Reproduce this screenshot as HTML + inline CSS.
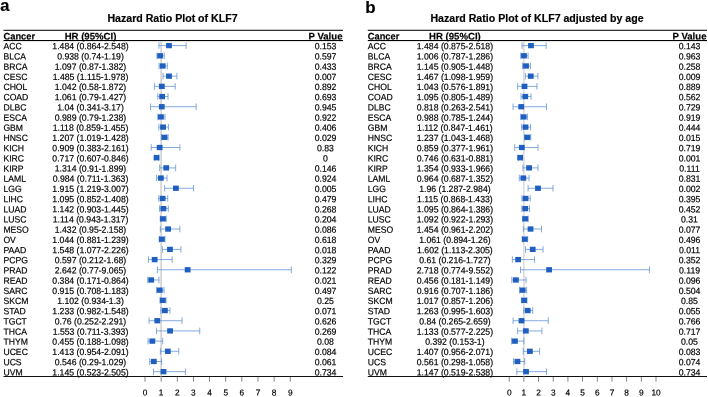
<!DOCTYPE html>
<html><head><meta charset="utf-8"><title>Hazard Ratio Plot of KLF7</title>
<style>
html,body{margin:0;padding:0;background:#fff;}
body{width:708px;height:397px;overflow:hidden;}
svg{display:block;font-family:"Liberation Sans",sans-serif;fill:#000;}
svg text{stroke:#000;stroke-width:0.18px;}
</style></head><body>
<svg width="708" height="397" viewBox="0 0 708 397">
<rect x="0" y="0" width="708" height="397" fill="#fff"/>
<text x="0.3" y="10.6" font-size="16.5" font-weight="bold">a</text>
<text x="172.5" y="22.45" font-size="10.6" font-weight="bold" text-anchor="middle">Hazard Ratio Plot of KLF7</text>
<rect x="3.5" y="29.75" width="339.5" height="1.15" fill="#1c1c1c"/>
<rect x="3.5" y="40" width="339.5" height="1.1" fill="#000"/>
<rect x="3.5" y="376" width="339.5" height="1.0" fill="#111"/>
<text transform="translate(3.50 39.50) rotate(0.03) scale(0.97 1.0)" font-size="9.6" font-weight="bold">Cancer</text>
<text transform="translate(90.50 39.50) rotate(0.03) scale(1.0 1.0)" font-size="9.6" text-anchor="middle" font-weight="bold">HR (95%CI)</text>
<text transform="translate(325.50 39.50) rotate(0.03) scale(1.0 1.0)" font-size="9.6" text-anchor="middle" font-weight="bold">P Value</text>
<rect x="160.29" y="41" width="1.7" height="335.5" fill="#d4d4d4"/>
<text transform="translate(3.40 49.35) rotate(0.03) scale(0.995 1.05)" font-size="8.7">ACC</text>
<text transform="translate(90.50 49.35) rotate(0.03) scale(1.0 1.05)" font-size="8.7" text-anchor="middle">1.484 (0.864-2.548)</text>
<text transform="translate(325.50 49.35) rotate(0.03) scale(1.0 1.05)" font-size="8.7" text-anchor="middle">0.153</text>
<path d="M158.94 45.60H186.12M158.94 42.30v6.6M186.12 42.30v6.6" stroke="#5b8ed6" stroke-width="0.75" fill="none"/>
<rect x="166.05" y="42.95" width="5.8" height="5.3" fill="#1f5fbf"/>
<text transform="translate(3.40 59.54) rotate(0.03) scale(0.995 1.05)" font-size="8.7">BLCA</text>
<text transform="translate(90.50 59.54) rotate(0.03) scale(1.0 1.05)" font-size="8.7" text-anchor="middle">0.938 (0.74-1.19)</text>
<text transform="translate(325.50 59.54) rotate(0.03) scale(1.0 1.05)" font-size="8.7" text-anchor="middle">0.597</text>
<path d="M156.94 55.79H164.21M156.94 52.49v6.6M164.21 52.49v6.6" stroke="#5b8ed6" stroke-width="0.75" fill="none"/>
<rect x="157.24" y="53.14" width="5.8" height="5.3" fill="#1f5fbf"/>
<text transform="translate(3.40 69.73) rotate(0.03) scale(0.995 1.05)" font-size="8.7">BRCA</text>
<text transform="translate(90.50 69.73) rotate(0.03) scale(1.0 1.05)" font-size="8.7" text-anchor="middle">1.097 (0.87-1.382)</text>
<text transform="translate(325.50 69.73) rotate(0.03) scale(1.0 1.05)" font-size="8.7" text-anchor="middle">0.433</text>
<path d="M159.04 65.98H167.31M159.04 62.68v6.6M167.31 62.68v6.6" stroke="#5b8ed6" stroke-width="0.75" fill="none"/>
<rect x="159.81" y="63.33" width="5.8" height="5.3" fill="#1f5fbf"/>
<text transform="translate(3.40 79.92) rotate(0.03) scale(0.995 1.05)" font-size="8.7">CESC</text>
<text transform="translate(90.50 79.92) rotate(0.03) scale(1.0 1.05)" font-size="8.7" text-anchor="middle">1.485 (1.115-1.978)</text>
<text transform="translate(325.50 79.92) rotate(0.03) scale(1.0 1.05)" font-size="8.7" text-anchor="middle">0.007</text>
<path d="M163.00 76.17H176.92M163.00 72.87v6.6M176.92 72.87v6.6" stroke="#5b8ed6" stroke-width="0.75" fill="none"/>
<rect x="166.07" y="73.52" width="5.8" height="5.3" fill="#1f5fbf"/>
<text transform="translate(3.40 90.11) rotate(0.03) scale(0.995 1.05)" font-size="8.7">CHOL</text>
<text transform="translate(90.50 90.11) rotate(0.03) scale(1.0 1.05)" font-size="8.7" text-anchor="middle">1.042 (0.58-1.872)</text>
<text transform="translate(325.50 90.11) rotate(0.03) scale(1.0 1.05)" font-size="8.7" text-anchor="middle">0.892</text>
<path d="M154.36 86.36H175.21M154.36 83.06v6.6M175.21 83.06v6.6" stroke="#5b8ed6" stroke-width="0.75" fill="none"/>
<rect x="158.92" y="83.71" width="5.8" height="5.3" fill="#1f5fbf"/>
<text transform="translate(3.40 100.30) rotate(0.03) scale(0.995 1.05)" font-size="8.7">COAD</text>
<text transform="translate(90.50 100.30) rotate(0.03) scale(1.0 1.05)" font-size="8.7" text-anchor="middle">1.061 (0.79-1.427)</text>
<text transform="translate(325.50 100.30) rotate(0.03) scale(1.0 1.05)" font-size="8.7" text-anchor="middle">0.693</text>
<path d="M157.75 96.55H168.03M157.75 93.25v6.6M168.03 93.25v6.6" stroke="#5b8ed6" stroke-width="0.75" fill="none"/>
<rect x="159.22" y="93.90" width="5.8" height="5.3" fill="#1f5fbf"/>
<text transform="translate(3.40 110.49) rotate(0.03) scale(0.995 1.05)" font-size="8.7">DLBC</text>
<text transform="translate(90.50 110.49) rotate(0.03) scale(1.0 1.05)" font-size="8.7" text-anchor="middle">1.04 (0.341-3.17)</text>
<text transform="translate(325.50 110.49) rotate(0.03) scale(1.0 1.05)" font-size="8.7" text-anchor="middle">0.945</text>
<path d="M150.50 106.74H196.16M150.50 103.44v6.6M196.16 103.44v6.6" stroke="#5b8ed6" stroke-width="0.75" fill="none"/>
<rect x="158.89" y="104.09" width="5.8" height="5.3" fill="#1f5fbf"/>
<text transform="translate(3.40 120.68) rotate(0.03) scale(0.995 1.05)" font-size="8.7">ESCA</text>
<text transform="translate(90.50 120.68) rotate(0.03) scale(1.0 1.05)" font-size="8.7" text-anchor="middle">0.989 (0.79-1.238)</text>
<text transform="translate(325.50 120.68) rotate(0.03) scale(1.0 1.05)" font-size="8.7" text-anchor="middle">0.922</text>
<path d="M157.75 116.93H164.98M157.75 113.63v6.6M164.98 113.63v6.6" stroke="#5b8ed6" stroke-width="0.75" fill="none"/>
<rect x="158.06" y="114.28" width="5.8" height="5.3" fill="#1f5fbf"/>
<text transform="translate(3.40 130.87) rotate(0.03) scale(0.995 1.05)" font-size="8.7">GBM</text>
<text transform="translate(90.50 130.87) rotate(0.03) scale(1.0 1.05)" font-size="8.7" text-anchor="middle">1.118 (0.859-1.455)</text>
<text transform="translate(325.50 130.87) rotate(0.03) scale(1.0 1.05)" font-size="8.7" text-anchor="middle">0.406</text>
<path d="M158.86 127.12H168.48M158.86 123.82v6.6M168.48 123.82v6.6" stroke="#5b8ed6" stroke-width="0.75" fill="none"/>
<rect x="160.14" y="124.47" width="5.8" height="5.3" fill="#1f5fbf"/>
<text transform="translate(3.40 141.06) rotate(0.03) scale(0.995 1.05)" font-size="8.7">HNSC</text>
<text transform="translate(90.50 141.06) rotate(0.03) scale(1.0 1.05)" font-size="8.7" text-anchor="middle">1.207 (1.019-1.428)</text>
<text transform="translate(325.50 141.06) rotate(0.03) scale(1.0 1.05)" font-size="8.7" text-anchor="middle">0.029</text>
<path d="M161.45 137.31H168.05M161.45 134.01v6.6M168.05 134.01v6.6" stroke="#5b8ed6" stroke-width="0.75" fill="none"/>
<rect x="161.58" y="134.66" width="5.8" height="5.3" fill="#1f5fbf"/>
<text transform="translate(3.40 151.25) rotate(0.03) scale(0.995 1.05)" font-size="8.7">KICH</text>
<text transform="translate(90.50 151.25) rotate(0.03) scale(1.0 1.05)" font-size="8.7" text-anchor="middle">0.909 (0.383-2.161)</text>
<text transform="translate(325.50 151.25) rotate(0.03) scale(1.0 1.05)" font-size="8.7" text-anchor="middle">0.83</text>
<path d="M151.18 147.50H179.88M151.18 144.20v6.6M179.88 144.20v6.6" stroke="#5b8ed6" stroke-width="0.75" fill="none"/>
<rect x="156.77" y="144.85" width="5.8" height="5.3" fill="#1f5fbf"/>
<text transform="translate(3.40 161.44) rotate(0.03) scale(0.995 1.05)" font-size="8.7">KIRC</text>
<text transform="translate(90.50 161.44) rotate(0.03) scale(1.0 1.05)" font-size="8.7" text-anchor="middle">0.717 (0.607-0.846)</text>
<text transform="translate(325.50 161.44) rotate(0.03) scale(1.0 1.05)" font-size="8.7" text-anchor="middle">0</text>
<path d="M154.80 157.69H158.65M154.80 154.39v6.6M158.65 154.39v6.6" stroke="#5b8ed6" stroke-width="0.75" fill="none"/>
<rect x="153.67" y="155.04" width="5.8" height="5.3" fill="#1f5fbf"/>
<text transform="translate(3.40 171.63) rotate(0.03) scale(0.995 1.05)" font-size="8.7">KIRP</text>
<text transform="translate(90.50 171.63) rotate(0.03) scale(1.0 1.05)" font-size="8.7" text-anchor="middle">1.314 (0.91-1.899)</text>
<text transform="translate(325.50 171.63) rotate(0.03) scale(1.0 1.05)" font-size="8.7" text-anchor="middle">0.146</text>
<path d="M159.69 167.88H175.65M159.69 164.58v6.6M175.65 164.58v6.6" stroke="#5b8ed6" stroke-width="0.75" fill="none"/>
<rect x="163.31" y="165.23" width="5.8" height="5.3" fill="#1f5fbf"/>
<text transform="translate(3.40 181.82) rotate(0.03) scale(0.995 1.05)" font-size="8.7">LAML</text>
<text transform="translate(90.50 181.82) rotate(0.03) scale(1.0 1.05)" font-size="8.7" text-anchor="middle">0.984 (0.711-1.363)</text>
<text transform="translate(325.50 181.82) rotate(0.03) scale(1.0 1.05)" font-size="8.7" text-anchor="middle">0.924</text>
<path d="M156.48 178.07H167.00M156.48 174.77v6.6M167.00 174.77v6.6" stroke="#5b8ed6" stroke-width="0.75" fill="none"/>
<rect x="157.98" y="175.42" width="5.8" height="5.3" fill="#1f5fbf"/>
<text transform="translate(3.40 192.01) rotate(0.03) scale(0.995 1.05)" font-size="8.7">LGG</text>
<text transform="translate(90.50 192.01) rotate(0.03) scale(1.0 1.05)" font-size="8.7" text-anchor="middle">1.915 (1.219-3.007)</text>
<text transform="translate(325.50 192.01) rotate(0.03) scale(1.0 1.05)" font-size="8.7" text-anchor="middle">0.005</text>
<path d="M164.67 188.26H193.53M164.67 184.96v6.6M193.53 184.96v6.6" stroke="#5b8ed6" stroke-width="0.75" fill="none"/>
<rect x="173.01" y="185.61" width="5.8" height="5.3" fill="#1f5fbf"/>
<text transform="translate(3.40 202.20) rotate(0.03) scale(0.995 1.05)" font-size="8.7">LIHC</text>
<text transform="translate(90.50 202.20) rotate(0.03) scale(1.0 1.05)" font-size="8.7" text-anchor="middle">1.095 (0.852-1.408)</text>
<text transform="translate(325.50 202.20) rotate(0.03) scale(1.0 1.05)" font-size="8.7" text-anchor="middle">0.479</text>
<path d="M158.75 198.45H167.73M158.75 195.15v6.6M167.73 195.15v6.6" stroke="#5b8ed6" stroke-width="0.75" fill="none"/>
<rect x="159.77" y="195.80" width="5.8" height="5.3" fill="#1f5fbf"/>
<text transform="translate(3.40 212.39) rotate(0.03) scale(0.995 1.05)" font-size="8.7">LUAD</text>
<text transform="translate(90.50 212.39) rotate(0.03) scale(1.0 1.05)" font-size="8.7" text-anchor="middle">1.142 (0.903-1.445)</text>
<text transform="translate(325.50 212.39) rotate(0.03) scale(1.0 1.05)" font-size="8.7" text-anchor="middle">0.268</text>
<path d="M159.57 208.64H168.32M159.57 205.34v6.6M168.32 205.34v6.6" stroke="#5b8ed6" stroke-width="0.75" fill="none"/>
<rect x="160.53" y="205.99" width="5.8" height="5.3" fill="#1f5fbf"/>
<text transform="translate(3.40 222.58) rotate(0.03) scale(0.995 1.05)" font-size="8.7">LUSC</text>
<text transform="translate(90.50 222.58) rotate(0.03) scale(1.0 1.05)" font-size="8.7" text-anchor="middle">1.114 (0.943-1.317)</text>
<text transform="translate(325.50 222.58) rotate(0.03) scale(1.0 1.05)" font-size="8.7" text-anchor="middle">0.204</text>
<path d="M160.22 218.83H166.26M160.22 215.53v6.6M166.26 215.53v6.6" stroke="#5b8ed6" stroke-width="0.75" fill="none"/>
<rect x="160.08" y="216.18" width="5.8" height="5.3" fill="#1f5fbf"/>
<text transform="translate(3.40 232.77) rotate(0.03) scale(0.995 1.05)" font-size="8.7">MESO</text>
<text transform="translate(90.50 232.77) rotate(0.03) scale(1.0 1.05)" font-size="8.7" text-anchor="middle">1.432 (0.95-2.158)</text>
<text transform="translate(325.50 232.77) rotate(0.03) scale(1.0 1.05)" font-size="8.7" text-anchor="middle">0.086</text>
<path d="M160.33 229.02H179.83M160.33 225.72v6.6M179.83 225.72v6.6" stroke="#5b8ed6" stroke-width="0.75" fill="none"/>
<rect x="165.21" y="226.37" width="5.8" height="5.3" fill="#1f5fbf"/>
<text transform="translate(3.40 242.96) rotate(0.03) scale(0.995 1.05)" font-size="8.7">OV</text>
<text transform="translate(90.50 242.96) rotate(0.03) scale(1.0 1.05)" font-size="8.7" text-anchor="middle">1.044 (0.881-1.239)</text>
<text transform="translate(325.50 242.96) rotate(0.03) scale(1.0 1.05)" font-size="8.7" text-anchor="middle">0.618</text>
<path d="M159.22 239.21H165.00M159.22 235.91v6.6M165.00 235.91v6.6" stroke="#5b8ed6" stroke-width="0.75" fill="none"/>
<rect x="158.95" y="236.56" width="5.8" height="5.3" fill="#1f5fbf"/>
<text transform="translate(3.40 253.15) rotate(0.03) scale(0.995 1.05)" font-size="8.7">PAAD</text>
<text transform="translate(90.50 253.15) rotate(0.03) scale(1.0 1.05)" font-size="8.7" text-anchor="middle">1.548 (1.077-2.226)</text>
<text transform="translate(325.50 253.15) rotate(0.03) scale(1.0 1.05)" font-size="8.7" text-anchor="middle">0.018</text>
<path d="M162.38 249.40H180.93M162.38 246.10v6.6M180.93 246.10v6.6" stroke="#5b8ed6" stroke-width="0.75" fill="none"/>
<rect x="167.08" y="246.75" width="5.8" height="5.3" fill="#1f5fbf"/>
<text transform="translate(3.40 263.34) rotate(0.03) scale(0.995 1.05)" font-size="8.7">PCPG</text>
<text transform="translate(90.50 263.34) rotate(0.03) scale(1.0 1.05)" font-size="8.7" text-anchor="middle">0.597 (0.212-1.68)</text>
<text transform="translate(325.50 263.34) rotate(0.03) scale(1.0 1.05)" font-size="8.7" text-anchor="middle">0.329</text>
<path d="M148.42 259.59H172.12M148.42 256.29v6.6M172.12 256.29v6.6" stroke="#5b8ed6" stroke-width="0.75" fill="none"/>
<rect x="151.74" y="256.94" width="5.8" height="5.3" fill="#1f5fbf"/>
<text transform="translate(3.40 273.53) rotate(0.03) scale(0.995 1.05)" font-size="8.7">PRAD</text>
<text transform="translate(90.50 273.53) rotate(0.03) scale(1.0 1.05)" font-size="8.7" text-anchor="middle">2.642 (0.77-9.065)</text>
<text transform="translate(325.50 273.53) rotate(0.03) scale(1.0 1.05)" font-size="8.7" text-anchor="middle">0.122</text>
<path d="M157.43 269.78H291.31M157.43 266.48v6.6M291.31 266.48v6.6" stroke="#5b8ed6" stroke-width="0.75" fill="none"/>
<rect x="184.74" y="267.13" width="5.8" height="5.3" fill="#1f5fbf"/>
<text transform="translate(3.40 283.72) rotate(0.03) scale(0.995 1.05)" font-size="8.7">READ</text>
<text transform="translate(90.50 283.72) rotate(0.03) scale(1.0 1.05)" font-size="8.7" text-anchor="middle">0.384 (0.171-0.864)</text>
<text transform="translate(325.50 283.72) rotate(0.03) scale(1.0 1.05)" font-size="8.7" text-anchor="middle">0.021</text>
<path d="M147.76 279.97H158.94M147.76 276.67v6.6M158.94 276.67v6.6" stroke="#5b8ed6" stroke-width="0.75" fill="none"/>
<rect x="148.30" y="277.32" width="5.8" height="5.3" fill="#1f5fbf"/>
<text transform="translate(3.40 293.91) rotate(0.03) scale(0.995 1.05)" font-size="8.7">SARC</text>
<text transform="translate(90.50 293.91) rotate(0.03) scale(1.0 1.05)" font-size="8.7" text-anchor="middle">0.915 (0.708-1.183)</text>
<text transform="translate(325.50 293.91) rotate(0.03) scale(1.0 1.05)" font-size="8.7" text-anchor="middle">0.497</text>
<path d="M156.43 290.16H164.09M156.43 286.86v6.6M164.09 286.86v6.6" stroke="#5b8ed6" stroke-width="0.75" fill="none"/>
<rect x="156.87" y="287.51" width="5.8" height="5.3" fill="#1f5fbf"/>
<text transform="translate(3.40 304.10) rotate(0.03) scale(0.995 1.05)" font-size="8.7">SKCM</text>
<text transform="translate(90.50 304.10) rotate(0.03) scale(1.0 1.05)" font-size="8.7" text-anchor="middle">1.102 (0.934-1.3)</text>
<text transform="translate(325.50 304.10) rotate(0.03) scale(1.0 1.05)" font-size="8.7" text-anchor="middle">0.25</text>
<path d="M160.07 300.35H165.98M160.07 297.05v6.6M165.98 297.05v6.6" stroke="#5b8ed6" stroke-width="0.75" fill="none"/>
<rect x="159.89" y="297.70" width="5.8" height="5.3" fill="#1f5fbf"/>
<text transform="translate(3.40 314.29) rotate(0.03) scale(0.995 1.05)" font-size="8.7">STAD</text>
<text transform="translate(90.50 314.29) rotate(0.03) scale(1.0 1.05)" font-size="8.7" text-anchor="middle">1.233 (0.982-1.548)</text>
<text transform="translate(325.50 314.29) rotate(0.03) scale(1.0 1.05)" font-size="8.7" text-anchor="middle">0.071</text>
<path d="M160.85 310.54H169.98M160.85 307.24v6.6M169.98 307.24v6.6" stroke="#5b8ed6" stroke-width="0.75" fill="none"/>
<rect x="162.00" y="307.89" width="5.8" height="5.3" fill="#1f5fbf"/>
<text transform="translate(3.40 324.48) rotate(0.03) scale(0.995 1.05)" font-size="8.7">TGCT</text>
<text transform="translate(90.50 324.48) rotate(0.03) scale(1.0 1.05)" font-size="8.7" text-anchor="middle">0.76 (0.252-2.291)</text>
<text transform="translate(325.50 324.48) rotate(0.03) scale(1.0 1.05)" font-size="8.7" text-anchor="middle">0.626</text>
<path d="M149.07 320.73H181.98M149.07 317.43v6.6M181.98 317.43v6.6" stroke="#5b8ed6" stroke-width="0.75" fill="none"/>
<rect x="154.37" y="318.08" width="5.8" height="5.3" fill="#1f5fbf"/>
<text transform="translate(3.40 334.67) rotate(0.03) scale(0.995 1.05)" font-size="8.7">THCA</text>
<text transform="translate(90.50 334.67) rotate(0.03) scale(1.0 1.05)" font-size="8.7" text-anchor="middle">1.553 (0.711-3.393)</text>
<text transform="translate(325.50 334.67) rotate(0.03) scale(1.0 1.05)" font-size="8.7" text-anchor="middle">0.269</text>
<path d="M156.48 330.92H199.76M156.48 327.62v6.6M199.76 327.62v6.6" stroke="#5b8ed6" stroke-width="0.75" fill="none"/>
<rect x="167.17" y="328.27" width="5.8" height="5.3" fill="#1f5fbf"/>
<text transform="translate(3.40 344.86) rotate(0.03) scale(0.995 1.05)" font-size="8.7">THYM</text>
<text transform="translate(90.50 344.86) rotate(0.03) scale(1.0 1.05)" font-size="8.7" text-anchor="middle">0.455 (0.188-1.098)</text>
<text transform="translate(325.50 344.86) rotate(0.03) scale(1.0 1.05)" font-size="8.7" text-anchor="middle">0.08</text>
<path d="M148.03 341.11H162.72M148.03 337.81v6.6M162.72 337.81v6.6" stroke="#5b8ed6" stroke-width="0.75" fill="none"/>
<rect x="149.44" y="338.46" width="5.8" height="5.3" fill="#1f5fbf"/>
<text transform="translate(3.40 355.05) rotate(0.03) scale(0.995 1.05)" font-size="8.7">UCEC</text>
<text transform="translate(90.50 355.05) rotate(0.03) scale(1.0 1.05)" font-size="8.7" text-anchor="middle">1.413 (0.954-2.091)</text>
<text transform="translate(325.50 355.05) rotate(0.03) scale(1.0 1.05)" font-size="8.7" text-anchor="middle">0.084</text>
<path d="M160.40 351.30H178.75M160.40 348.00v6.6M178.75 348.00v6.6" stroke="#5b8ed6" stroke-width="0.75" fill="none"/>
<rect x="164.91" y="348.65" width="5.8" height="5.3" fill="#1f5fbf"/>
<text transform="translate(3.40 365.24) rotate(0.03) scale(0.995 1.05)" font-size="8.7">UCS</text>
<text transform="translate(90.50 365.24) rotate(0.03) scale(1.0 1.05)" font-size="8.7" text-anchor="middle">0.546 (0.29-1.029)</text>
<text transform="translate(325.50 365.24) rotate(0.03) scale(1.0 1.05)" font-size="8.7" text-anchor="middle">0.061</text>
<path d="M149.68 361.49H161.61M149.68 358.19v6.6M161.61 358.19v6.6" stroke="#5b8ed6" stroke-width="0.75" fill="none"/>
<rect x="150.91" y="358.84" width="5.8" height="5.3" fill="#1f5fbf"/>
<text transform="translate(3.40 375.43) rotate(0.03) scale(0.995 1.05)" font-size="8.7">UVM</text>
<text transform="translate(90.50 375.43) rotate(0.03) scale(1.0 1.05)" font-size="8.7" text-anchor="middle">1.145 (0.523-2.505)</text>
<text transform="translate(325.50 375.43) rotate(0.03) scale(1.0 1.05)" font-size="8.7" text-anchor="middle">0.734</text>
<path d="M153.44 371.68H185.43M153.44 368.38v6.6M185.43 368.38v6.6" stroke="#5b8ed6" stroke-width="0.75" fill="none"/>
<rect x="160.58" y="369.03" width="5.8" height="5.3" fill="#1f5fbf"/>
<rect x="144.55" y="377" width="0.9" height="4.7" fill="#7a7a7a"/>
<text transform="translate(145.00 395.60) rotate(0.03) scale(1.0 1.04)" font-size="8.3" text-anchor="middle">0</text>
<rect x="160.69" y="377" width="0.9" height="4.7" fill="#7a7a7a"/>
<text transform="translate(161.14 395.60) rotate(0.03) scale(1.0 1.04)" font-size="8.3" text-anchor="middle">1</text>
<rect x="176.83" y="377" width="0.9" height="4.7" fill="#7a7a7a"/>
<text transform="translate(177.28 395.60) rotate(0.03) scale(1.0 1.04)" font-size="8.3" text-anchor="middle">2</text>
<rect x="192.97" y="377" width="0.9" height="4.7" fill="#7a7a7a"/>
<text transform="translate(193.42 395.60) rotate(0.03) scale(1.0 1.04)" font-size="8.3" text-anchor="middle">3</text>
<rect x="209.11" y="377" width="0.9" height="4.7" fill="#7a7a7a"/>
<text transform="translate(209.56 395.60) rotate(0.03) scale(1.0 1.04)" font-size="8.3" text-anchor="middle">4</text>
<rect x="225.25" y="377" width="0.9" height="4.7" fill="#7a7a7a"/>
<text transform="translate(225.70 395.60) rotate(0.03) scale(1.0 1.04)" font-size="8.3" text-anchor="middle">5</text>
<rect x="241.39" y="377" width="0.9" height="4.7" fill="#7a7a7a"/>
<text transform="translate(241.84 395.60) rotate(0.03) scale(1.0 1.04)" font-size="8.3" text-anchor="middle">6</text>
<rect x="257.53" y="377" width="0.9" height="4.7" fill="#7a7a7a"/>
<text transform="translate(257.98 395.60) rotate(0.03) scale(1.0 1.04)" font-size="8.3" text-anchor="middle">7</text>
<rect x="273.67" y="377" width="0.9" height="4.7" fill="#7a7a7a"/>
<text transform="translate(274.12 395.60) rotate(0.03) scale(1.0 1.04)" font-size="8.3" text-anchor="middle">8</text>
<rect x="289.81" y="377" width="0.9" height="4.7" fill="#7a7a7a"/>
<text transform="translate(290.26 395.60) rotate(0.03) scale(1.0 1.04)" font-size="8.3" text-anchor="middle">9</text>
<text x="365.3" y="13.3" font-size="16.9" font-weight="bold">b</text>
<text x="537" y="22.45" font-size="10.6" font-weight="bold" text-anchor="middle">Hazard Ratio Plot of KLF7 adjusted by age</text>
<rect x="367.8" y="29.75" width="339.2" height="1.15" fill="#1c1c1c"/>
<rect x="367.8" y="40" width="339.2" height="1.1" fill="#000"/>
<rect x="367.8" y="376" width="339.2" height="1.0" fill="#111"/>
<text transform="translate(367.80 39.50) rotate(0.03) scale(0.97 1.0)" font-size="9.6" font-weight="bold">Cancer</text>
<text transform="translate(454.90 39.50) rotate(0.03) scale(1.0 1.0)" font-size="9.6" text-anchor="middle" font-weight="bold">HR (95%CI)</text>
<text transform="translate(689.50 39.50) rotate(0.03) scale(1.0 1.0)" font-size="9.6" text-anchor="middle" font-weight="bold">P Value</text>
<rect x="523.23" y="41" width="1.3" height="335.5" fill="#d4d4d4"/>
<text transform="translate(367.70 49.35) rotate(0.03) scale(0.995 1.05)" font-size="8.7">ACC</text>
<text transform="translate(454.90 49.35) rotate(0.03) scale(1.0 1.05)" font-size="8.7" text-anchor="middle">1.484 (0.875-2.518)</text>
<text transform="translate(689.50 49.35) rotate(0.03) scale(1.0 1.05)" font-size="8.7" text-anchor="middle">0.143</text>
<path d="M522.04 45.60H546.16M522.04 42.30v6.6M546.16 42.30v6.6" stroke="#5b8ed6" stroke-width="0.75" fill="none"/>
<rect x="528.09" y="42.95" width="5.8" height="5.3" fill="#1f5fbf"/>
<text transform="translate(367.70 59.54) rotate(0.03) scale(0.995 1.05)" font-size="8.7">BLCA</text>
<text transform="translate(454.90 59.54) rotate(0.03) scale(1.0 1.05)" font-size="8.7" text-anchor="middle">1.006 (0.787-1.286)</text>
<text transform="translate(689.50 59.54) rotate(0.03) scale(1.0 1.05)" font-size="8.7" text-anchor="middle">0.963</text>
<path d="M520.75 55.79H528.08M520.75 52.49v6.6M528.08 52.49v6.6" stroke="#5b8ed6" stroke-width="0.75" fill="none"/>
<rect x="521.07" y="53.14" width="5.8" height="5.3" fill="#1f5fbf"/>
<text transform="translate(367.70 69.73) rotate(0.03) scale(0.995 1.05)" font-size="8.7">BRCA</text>
<text transform="translate(454.90 69.73) rotate(0.03) scale(1.0 1.05)" font-size="8.7" text-anchor="middle">1.145 (0.905-1.448)</text>
<text transform="translate(689.50 69.73) rotate(0.03) scale(1.0 1.05)" font-size="8.7" text-anchor="middle">0.258</text>
<path d="M522.49 65.98H530.46M522.49 62.68v6.6M530.46 62.68v6.6" stroke="#5b8ed6" stroke-width="0.75" fill="none"/>
<rect x="523.11" y="63.33" width="5.8" height="5.3" fill="#1f5fbf"/>
<text transform="translate(367.70 79.92) rotate(0.03) scale(0.995 1.05)" font-size="8.7">CESC</text>
<text transform="translate(454.90 79.92) rotate(0.03) scale(1.0 1.05)" font-size="8.7" text-anchor="middle">1.467 (1.098-1.959)</text>
<text transform="translate(689.50 79.92) rotate(0.03) scale(1.0 1.05)" font-size="8.7" text-anchor="middle">0.009</text>
<path d="M525.32 76.17H537.96M525.32 72.87v6.6M537.96 72.87v6.6" stroke="#5b8ed6" stroke-width="0.75" fill="none"/>
<rect x="527.84" y="73.52" width="5.8" height="5.3" fill="#1f5fbf"/>
<text transform="translate(367.70 90.11) rotate(0.03) scale(0.995 1.05)" font-size="8.7">CHOL</text>
<text transform="translate(454.90 90.11) rotate(0.03) scale(1.0 1.05)" font-size="8.7" text-anchor="middle">1.043 (0.576-1.891)</text>
<text transform="translate(689.50 90.11) rotate(0.03) scale(1.0 1.05)" font-size="8.7" text-anchor="middle">0.889</text>
<path d="M517.66 86.36H536.96M517.66 83.06v6.6M536.96 83.06v6.6" stroke="#5b8ed6" stroke-width="0.75" fill="none"/>
<rect x="521.61" y="83.71" width="5.8" height="5.3" fill="#1f5fbf"/>
<text transform="translate(367.70 100.30) rotate(0.03) scale(0.995 1.05)" font-size="8.7">COAD</text>
<text transform="translate(454.90 100.30) rotate(0.03) scale(1.0 1.05)" font-size="8.7" text-anchor="middle">1.095 (0.805-1.489)</text>
<text transform="translate(689.50 100.30) rotate(0.03) scale(1.0 1.05)" font-size="8.7" text-anchor="middle">0.562</text>
<path d="M521.02 96.55H531.06M521.02 93.25v6.6M531.06 93.25v6.6" stroke="#5b8ed6" stroke-width="0.75" fill="none"/>
<rect x="522.37" y="93.90" width="5.8" height="5.3" fill="#1f5fbf"/>
<text transform="translate(367.70 110.49) rotate(0.03) scale(0.995 1.05)" font-size="8.7">DLBC</text>
<text transform="translate(454.90 110.49) rotate(0.03) scale(1.0 1.05)" font-size="8.7" text-anchor="middle">0.818 (0.263-2.541)</text>
<text transform="translate(689.50 110.49) rotate(0.03) scale(1.0 1.05)" font-size="8.7" text-anchor="middle">0.729</text>
<path d="M513.06 106.74H546.50M513.06 103.44v6.6M546.50 103.44v6.6" stroke="#5b8ed6" stroke-width="0.75" fill="none"/>
<rect x="518.31" y="104.09" width="5.8" height="5.3" fill="#1f5fbf"/>
<text transform="translate(367.70 120.68) rotate(0.03) scale(0.995 1.05)" font-size="8.7">ESCA</text>
<text transform="translate(454.90 120.68) rotate(0.03) scale(1.0 1.05)" font-size="8.7" text-anchor="middle">0.988 (0.785-1.244)</text>
<text transform="translate(689.50 120.68) rotate(0.03) scale(1.0 1.05)" font-size="8.7" text-anchor="middle">0.919</text>
<path d="M520.72 116.93H527.46M520.72 113.63v6.6M527.46 113.63v6.6" stroke="#5b8ed6" stroke-width="0.75" fill="none"/>
<rect x="520.80" y="114.28" width="5.8" height="5.3" fill="#1f5fbf"/>
<text transform="translate(367.70 130.87) rotate(0.03) scale(0.995 1.05)" font-size="8.7">GBM</text>
<text transform="translate(454.90 130.87) rotate(0.03) scale(1.0 1.05)" font-size="8.7" text-anchor="middle">1.112 (0.847-1.461)</text>
<text transform="translate(689.50 130.87) rotate(0.03) scale(1.0 1.05)" font-size="8.7" text-anchor="middle">0.444</text>
<path d="M521.63 127.12H530.65M521.63 123.82v6.6M530.65 123.82v6.6" stroke="#5b8ed6" stroke-width="0.75" fill="none"/>
<rect x="522.62" y="124.47" width="5.8" height="5.3" fill="#1f5fbf"/>
<text transform="translate(367.70 141.06) rotate(0.03) scale(0.995 1.05)" font-size="8.7">HNSC</text>
<text transform="translate(454.90 141.06) rotate(0.03) scale(1.0 1.05)" font-size="8.7" text-anchor="middle">1.237 (1.043-1.468)</text>
<text transform="translate(689.50 141.06) rotate(0.03) scale(1.0 1.05)" font-size="8.7" text-anchor="middle">0.015</text>
<path d="M524.51 137.31H530.75M524.51 134.01v6.6M530.75 134.01v6.6" stroke="#5b8ed6" stroke-width="0.75" fill="none"/>
<rect x="524.46" y="134.66" width="5.8" height="5.3" fill="#1f5fbf"/>
<text transform="translate(367.70 151.25) rotate(0.03) scale(0.995 1.05)" font-size="8.7">KICH</text>
<text transform="translate(454.90 151.25) rotate(0.03) scale(1.0 1.05)" font-size="8.7" text-anchor="middle">0.859 (0.377-1.961)</text>
<text transform="translate(689.50 151.25) rotate(0.03) scale(1.0 1.05)" font-size="8.7" text-anchor="middle">0.719</text>
<path d="M514.73 147.50H537.99M514.73 144.20v6.6M537.99 144.20v6.6" stroke="#5b8ed6" stroke-width="0.75" fill="none"/>
<rect x="518.91" y="144.85" width="5.8" height="5.3" fill="#1f5fbf"/>
<text transform="translate(367.70 161.44) rotate(0.03) scale(0.995 1.05)" font-size="8.7">KIRC</text>
<text transform="translate(454.90 161.44) rotate(0.03) scale(1.0 1.05)" font-size="8.7" text-anchor="middle">0.746 (0.631-0.881)</text>
<text transform="translate(689.50 161.44) rotate(0.03) scale(1.0 1.05)" font-size="8.7" text-anchor="middle">0.001</text>
<path d="M518.46 157.69H522.13M518.46 154.39v6.6M522.13 154.39v6.6" stroke="#5b8ed6" stroke-width="0.75" fill="none"/>
<rect x="517.25" y="155.04" width="5.8" height="5.3" fill="#1f5fbf"/>
<text transform="translate(367.70 171.63) rotate(0.03) scale(0.995 1.05)" font-size="8.7">KIRP</text>
<text transform="translate(454.90 171.63) rotate(0.03) scale(1.0 1.05)" font-size="8.7" text-anchor="middle">1.354 (0.933-1.966)</text>
<text transform="translate(689.50 171.63) rotate(0.03) scale(1.0 1.05)" font-size="8.7" text-anchor="middle">0.111</text>
<path d="M522.90 167.88H538.06M522.90 164.58v6.6M538.06 164.58v6.6" stroke="#5b8ed6" stroke-width="0.75" fill="none"/>
<rect x="526.18" y="165.23" width="5.8" height="5.3" fill="#1f5fbf"/>
<text transform="translate(367.70 181.82) rotate(0.03) scale(0.995 1.05)" font-size="8.7">LAML</text>
<text transform="translate(454.90 181.82) rotate(0.03) scale(1.0 1.05)" font-size="8.7" text-anchor="middle">0.964 (0.687-1.352)</text>
<text transform="translate(689.50 181.82) rotate(0.03) scale(1.0 1.05)" font-size="8.7" text-anchor="middle">0.831</text>
<path d="M519.29 178.07H529.05M519.29 174.77v6.6M529.05 174.77v6.6" stroke="#5b8ed6" stroke-width="0.75" fill="none"/>
<rect x="520.45" y="175.42" width="5.8" height="5.3" fill="#1f5fbf"/>
<text transform="translate(367.70 192.01) rotate(0.03) scale(0.995 1.05)" font-size="8.7">LGG</text>
<text transform="translate(454.90 192.01) rotate(0.03) scale(1.0 1.05)" font-size="8.7" text-anchor="middle">1.96 (1.287-2.984)</text>
<text transform="translate(689.50 192.01) rotate(0.03) scale(1.0 1.05)" font-size="8.7" text-anchor="middle">0.002</text>
<path d="M528.09 188.26H553.01M528.09 184.96v6.6M553.01 184.96v6.6" stroke="#5b8ed6" stroke-width="0.75" fill="none"/>
<rect x="535.07" y="185.61" width="5.8" height="5.3" fill="#1f5fbf"/>
<text transform="translate(367.70 202.20) rotate(0.03) scale(0.995 1.05)" font-size="8.7">LIHC</text>
<text transform="translate(454.90 202.20) rotate(0.03) scale(1.0 1.05)" font-size="8.7" text-anchor="middle">1.115 (0.868-1.433)</text>
<text transform="translate(689.50 202.20) rotate(0.03) scale(1.0 1.05)" font-size="8.7" text-anchor="middle">0.395</text>
<path d="M521.94 198.45H530.24M521.94 195.15v6.6M530.24 195.15v6.6" stroke="#5b8ed6" stroke-width="0.75" fill="none"/>
<rect x="522.67" y="195.80" width="5.8" height="5.3" fill="#1f5fbf"/>
<text transform="translate(367.70 212.39) rotate(0.03) scale(0.995 1.05)" font-size="8.7">LUAD</text>
<text transform="translate(454.90 212.39) rotate(0.03) scale(1.0 1.05)" font-size="8.7" text-anchor="middle">1.095 (0.864-1.386)</text>
<text transform="translate(689.50 212.39) rotate(0.03) scale(1.0 1.05)" font-size="8.7" text-anchor="middle">0.452</text>
<path d="M521.88 208.64H529.55M521.88 205.34v6.6M529.55 205.34v6.6" stroke="#5b8ed6" stroke-width="0.75" fill="none"/>
<rect x="522.37" y="205.99" width="5.8" height="5.3" fill="#1f5fbf"/>
<text transform="translate(367.70 222.58) rotate(0.03) scale(0.995 1.05)" font-size="8.7">LUSC</text>
<text transform="translate(454.90 222.58) rotate(0.03) scale(1.0 1.05)" font-size="8.7" text-anchor="middle">1.092 (0.922-1.293)</text>
<text transform="translate(689.50 222.58) rotate(0.03) scale(1.0 1.05)" font-size="8.7" text-anchor="middle">0.31</text>
<path d="M522.73 218.83H528.18M522.73 215.53v6.6M528.18 215.53v6.6" stroke="#5b8ed6" stroke-width="0.75" fill="none"/>
<rect x="522.33" y="216.18" width="5.8" height="5.3" fill="#1f5fbf"/>
<text transform="translate(367.70 232.77) rotate(0.03) scale(0.995 1.05)" font-size="8.7">MESO</text>
<text transform="translate(454.90 232.77) rotate(0.03) scale(1.0 1.05)" font-size="8.7" text-anchor="middle">1.454 (0.961-2.202)</text>
<text transform="translate(689.50 232.77) rotate(0.03) scale(1.0 1.05)" font-size="8.7" text-anchor="middle">0.077</text>
<path d="M523.31 229.02H541.53M523.31 225.72v6.6M541.53 225.72v6.6" stroke="#5b8ed6" stroke-width="0.75" fill="none"/>
<rect x="527.64" y="226.37" width="5.8" height="5.3" fill="#1f5fbf"/>
<text transform="translate(367.70 242.96) rotate(0.03) scale(0.995 1.05)" font-size="8.7">OV</text>
<text transform="translate(454.90 242.96) rotate(0.03) scale(1.0 1.05)" font-size="8.7" text-anchor="middle">1.061 (0.894-1.26)</text>
<text transform="translate(689.50 242.96) rotate(0.03) scale(1.0 1.05)" font-size="8.7" text-anchor="middle">0.496</text>
<path d="M522.32 239.21H527.70M522.32 235.91v6.6M527.70 235.91v6.6" stroke="#5b8ed6" stroke-width="0.75" fill="none"/>
<rect x="521.88" y="236.56" width="5.8" height="5.3" fill="#1f5fbf"/>
<text transform="translate(367.70 253.15) rotate(0.03) scale(0.995 1.05)" font-size="8.7">PAAD</text>
<text transform="translate(454.90 253.15) rotate(0.03) scale(1.0 1.05)" font-size="8.7" text-anchor="middle">1.602 (1.113-2.305)</text>
<text transform="translate(689.50 253.15) rotate(0.03) scale(1.0 1.05)" font-size="8.7" text-anchor="middle">0.011</text>
<path d="M525.54 249.40H543.04M525.54 246.10v6.6M543.04 246.10v6.6" stroke="#5b8ed6" stroke-width="0.75" fill="none"/>
<rect x="529.82" y="246.75" width="5.8" height="5.3" fill="#1f5fbf"/>
<text transform="translate(367.70 263.34) rotate(0.03) scale(0.995 1.05)" font-size="8.7">PCPG</text>
<text transform="translate(454.90 263.34) rotate(0.03) scale(1.0 1.05)" font-size="8.7" text-anchor="middle">0.61 (0.216-1.727)</text>
<text transform="translate(689.50 263.34) rotate(0.03) scale(1.0 1.05)" font-size="8.7" text-anchor="middle">0.352</text>
<path d="M512.37 259.59H534.55M512.37 256.29v6.6M534.55 256.29v6.6" stroke="#5b8ed6" stroke-width="0.75" fill="none"/>
<rect x="515.25" y="256.94" width="5.8" height="5.3" fill="#1f5fbf"/>
<text transform="translate(367.70 273.53) rotate(0.03) scale(0.995 1.05)" font-size="8.7">PRAD</text>
<text transform="translate(454.90 273.53) rotate(0.03) scale(1.0 1.05)" font-size="8.7" text-anchor="middle">2.718 (0.774-9.552)</text>
<text transform="translate(689.50 273.53) rotate(0.03) scale(1.0 1.05)" font-size="8.7" text-anchor="middle">0.119</text>
<path d="M520.56 269.78H649.42M520.56 266.48v6.6M649.42 266.48v6.6" stroke="#5b8ed6" stroke-width="0.75" fill="none"/>
<rect x="546.20" y="267.13" width="5.8" height="5.3" fill="#1f5fbf"/>
<text transform="translate(367.70 283.72) rotate(0.03) scale(0.995 1.05)" font-size="8.7">READ</text>
<text transform="translate(454.90 283.72) rotate(0.03) scale(1.0 1.05)" font-size="8.7" text-anchor="middle">0.456 (0.181-1.149)</text>
<text transform="translate(689.50 283.72) rotate(0.03) scale(1.0 1.05)" font-size="8.7" text-anchor="middle">0.096</text>
<path d="M511.86 279.97H526.07M511.86 276.67v6.6M526.07 276.67v6.6" stroke="#5b8ed6" stroke-width="0.75" fill="none"/>
<rect x="512.99" y="277.32" width="5.8" height="5.3" fill="#1f5fbf"/>
<text transform="translate(367.70 293.91) rotate(0.03) scale(0.995 1.05)" font-size="8.7">SARC</text>
<text transform="translate(454.90 293.91) rotate(0.03) scale(1.0 1.05)" font-size="8.7" text-anchor="middle">0.916 (0.707-1.186)</text>
<text transform="translate(689.50 293.91) rotate(0.03) scale(1.0 1.05)" font-size="8.7" text-anchor="middle">0.504</text>
<path d="M519.58 290.16H526.61M519.58 286.86v6.6M526.61 286.86v6.6" stroke="#5b8ed6" stroke-width="0.75" fill="none"/>
<rect x="519.75" y="287.51" width="5.8" height="5.3" fill="#1f5fbf"/>
<text transform="translate(367.70 304.10) rotate(0.03) scale(0.995 1.05)" font-size="8.7">SKCM</text>
<text transform="translate(454.90 304.10) rotate(0.03) scale(1.0 1.05)" font-size="8.7" text-anchor="middle">1.017 (0.857-1.206)</text>
<text transform="translate(689.50 304.10) rotate(0.03) scale(1.0 1.05)" font-size="8.7" text-anchor="middle">0.85</text>
<path d="M521.78 300.35H526.90M521.78 297.05v6.6M526.90 297.05v6.6" stroke="#5b8ed6" stroke-width="0.75" fill="none"/>
<rect x="521.23" y="297.70" width="5.8" height="5.3" fill="#1f5fbf"/>
<text transform="translate(367.70 314.29) rotate(0.03) scale(0.995 1.05)" font-size="8.7">STAD</text>
<text transform="translate(454.90 314.29) rotate(0.03) scale(1.0 1.05)" font-size="8.7" text-anchor="middle">1.263 (0.995-1.603)</text>
<text transform="translate(689.50 314.29) rotate(0.03) scale(1.0 1.05)" font-size="8.7" text-anchor="middle">0.055</text>
<path d="M523.81 310.54H532.73M523.81 307.24v6.6M532.73 307.24v6.6" stroke="#5b8ed6" stroke-width="0.75" fill="none"/>
<rect x="524.84" y="307.89" width="5.8" height="5.3" fill="#1f5fbf"/>
<text transform="translate(367.70 324.48) rotate(0.03) scale(0.995 1.05)" font-size="8.7">TGCT</text>
<text transform="translate(454.90 324.48) rotate(0.03) scale(1.0 1.05)" font-size="8.7" text-anchor="middle">0.84 (0.265-2.659)</text>
<text transform="translate(689.50 324.48) rotate(0.03) scale(1.0 1.05)" font-size="8.7" text-anchor="middle">0.766</text>
<path d="M513.09 320.73H548.23M513.09 317.43v6.6M548.23 317.43v6.6" stroke="#5b8ed6" stroke-width="0.75" fill="none"/>
<rect x="518.63" y="318.08" width="5.8" height="5.3" fill="#1f5fbf"/>
<text transform="translate(367.70 334.67) rotate(0.03) scale(0.995 1.05)" font-size="8.7">THCA</text>
<text transform="translate(454.90 334.67) rotate(0.03) scale(1.0 1.05)" font-size="8.7" text-anchor="middle">1.133 (0.577-2.225)</text>
<text transform="translate(689.50 334.67) rotate(0.03) scale(1.0 1.05)" font-size="8.7" text-anchor="middle">0.717</text>
<path d="M517.67 330.92H541.86M517.67 327.62v6.6M541.86 327.62v6.6" stroke="#5b8ed6" stroke-width="0.75" fill="none"/>
<rect x="522.93" y="328.27" width="5.8" height="5.3" fill="#1f5fbf"/>
<text transform="translate(367.70 344.86) rotate(0.03) scale(0.995 1.05)" font-size="8.7">THYM</text>
<text transform="translate(454.90 344.86) rotate(0.03) scale(1.0 1.05)" font-size="8.7" text-anchor="middle">0.392 (0.153-1)</text>
<text transform="translate(689.50 344.86) rotate(0.03) scale(1.0 1.05)" font-size="8.7" text-anchor="middle">0.05</text>
<path d="M511.45 341.11H523.88M511.45 337.81v6.6M523.88 337.81v6.6" stroke="#5b8ed6" stroke-width="0.75" fill="none"/>
<rect x="512.05" y="338.46" width="5.8" height="5.3" fill="#1f5fbf"/>
<text transform="translate(367.70 355.05) rotate(0.03) scale(0.995 1.05)" font-size="8.7">UCEC</text>
<text transform="translate(454.90 355.05) rotate(0.03) scale(1.0 1.05)" font-size="8.7" text-anchor="middle">1.407 (0.956-2.071)</text>
<text transform="translate(689.50 355.05) rotate(0.03) scale(1.0 1.05)" font-size="8.7" text-anchor="middle">0.083</text>
<path d="M523.23 351.30H539.60M523.23 348.00v6.6M539.60 348.00v6.6" stroke="#5b8ed6" stroke-width="0.75" fill="none"/>
<rect x="526.95" y="348.65" width="5.8" height="5.3" fill="#1f5fbf"/>
<text transform="translate(367.70 365.24) rotate(0.03) scale(0.995 1.05)" font-size="8.7">UCS</text>
<text transform="translate(454.90 365.24) rotate(0.03) scale(1.0 1.05)" font-size="8.7" text-anchor="middle">0.561 (0.298-1.058)</text>
<text transform="translate(689.50 365.24) rotate(0.03) scale(1.0 1.05)" font-size="8.7" text-anchor="middle">0.074</text>
<path d="M513.57 361.49H524.73M513.57 358.19v6.6M524.73 358.19v6.6" stroke="#5b8ed6" stroke-width="0.75" fill="none"/>
<rect x="514.54" y="358.84" width="5.8" height="5.3" fill="#1f5fbf"/>
<text transform="translate(367.70 375.43) rotate(0.03) scale(0.995 1.05)" font-size="8.7">UVM</text>
<text transform="translate(454.90 375.43) rotate(0.03) scale(1.0 1.05)" font-size="8.7" text-anchor="middle">1.147 (0.519-2.538)</text>
<text transform="translate(689.50 375.43) rotate(0.03) scale(1.0 1.05)" font-size="8.7" text-anchor="middle">0.734</text>
<path d="M516.82 371.68H546.46M516.82 368.38v6.6M546.46 368.38v6.6" stroke="#5b8ed6" stroke-width="0.75" fill="none"/>
<rect x="523.14" y="369.03" width="5.8" height="5.3" fill="#1f5fbf"/>
<rect x="508.75" y="377" width="0.9" height="4.7" fill="#7a7a7a"/>
<text transform="translate(509.20 395.60) rotate(0.03) scale(1.0 1.04)" font-size="8.3" text-anchor="middle">0</text>
<rect x="523.43" y="377" width="0.9" height="4.7" fill="#7a7a7a"/>
<text transform="translate(523.88 395.60) rotate(0.03) scale(1.0 1.04)" font-size="8.3" text-anchor="middle">1</text>
<rect x="538.11" y="377" width="0.9" height="4.7" fill="#7a7a7a"/>
<text transform="translate(538.56 395.60) rotate(0.03) scale(1.0 1.04)" font-size="8.3" text-anchor="middle">2</text>
<rect x="552.79" y="377" width="0.9" height="4.7" fill="#7a7a7a"/>
<text transform="translate(553.24 395.60) rotate(0.03) scale(1.0 1.04)" font-size="8.3" text-anchor="middle">3</text>
<rect x="567.47" y="377" width="0.9" height="4.7" fill="#7a7a7a"/>
<text transform="translate(567.92 395.60) rotate(0.03) scale(1.0 1.04)" font-size="8.3" text-anchor="middle">4</text>
<rect x="582.15" y="377" width="0.9" height="4.7" fill="#7a7a7a"/>
<text transform="translate(582.60 395.60) rotate(0.03) scale(1.0 1.04)" font-size="8.3" text-anchor="middle">5</text>
<rect x="596.83" y="377" width="0.9" height="4.7" fill="#7a7a7a"/>
<text transform="translate(597.28 395.60) rotate(0.03) scale(1.0 1.04)" font-size="8.3" text-anchor="middle">6</text>
<rect x="611.51" y="377" width="0.9" height="4.7" fill="#7a7a7a"/>
<text transform="translate(611.96 395.60) rotate(0.03) scale(1.0 1.04)" font-size="8.3" text-anchor="middle">7</text>
<rect x="626.19" y="377" width="0.9" height="4.7" fill="#7a7a7a"/>
<text transform="translate(626.64 395.60) rotate(0.03) scale(1.0 1.04)" font-size="8.3" text-anchor="middle">8</text>
<rect x="640.87" y="377" width="0.9" height="4.7" fill="#7a7a7a"/>
<text transform="translate(641.32 395.60) rotate(0.03) scale(1.0 1.04)" font-size="8.3" text-anchor="middle">9</text>
<rect x="655.55" y="377" width="0.9" height="4.7" fill="#7a7a7a"/>
<text transform="translate(656.00 395.60) rotate(0.03) scale(1.0 1.04)" font-size="8.3" text-anchor="middle">10</text>
</svg>
</body></html>
